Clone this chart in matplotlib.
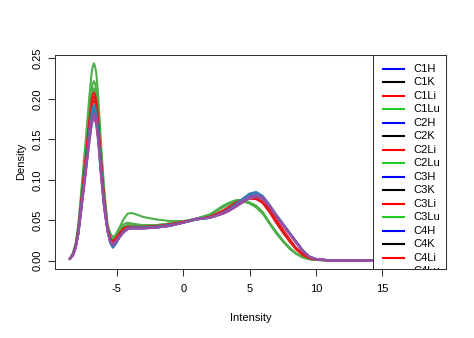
import matplotlib
matplotlib.use("Agg")
import matplotlib.pyplot as plt

plt.rcParams['font.family'] = ['Liberation Sans', 'DejaVu Sans']

# density grid (Intensity)
intensity = [-8.55, -8.3, -8.1, -7.9, -7.66, -7.36, -7.06, -6.9, -6.82, -6.73, -6.64, -6.55, -6.41, -6.2, -5.96,
             -5.7, -5.5, -5.3, -5.1, -4.8, -4.5, -4.2, -3.9, -3.5, -3.0, -2.0, -1.0, 0.0, 1.0, 2.0, 3.0, 3.5,
             4.0, 4.5, 5.0, 5.5, 6.0, 6.5, 7.0, 7.5, 8.0, 8.5, 9.0, 9.5, 10.0, 11.0, 12.0, 14.0, 16.0]

green_dens = [
    [0.002, 0.010, 0.022, 0.045, 0.090, 0.146, 0.205, 0.232, 0.240, 0.244, 0.240, 0.232, 0.205, 0.146, 0.090,
     0.045, 0.034, 0.029, 0.032, 0.041, 0.051, 0.058, 0.059, 0.057, 0.054, 0.051, 0.049, 0.049, 0.052, 0.057, 0.068, 0.072,
     0.075, 0.075, 0.072, 0.068, 0.060, 0.047, 0.035, 0.025, 0.016, 0.009, 0.0045, 0.002, 0.001, 0.0003, 0.0001, 0.0, 0.0],
    [0.002, 0.009, 0.020, 0.041, 0.082, 0.133, 0.186, 0.211, 0.219, 0.222, 0.219, 0.211, 0.186, 0.133, 0.082,
     0.042, 0.030, 0.026, 0.029, 0.037, 0.045, 0.047, 0.046, 0.045, 0.044, 0.044, 0.046, 0.048, 0.052, 0.057, 0.067, 0.071,
     0.074, 0.074, 0.071, 0.066, 0.058, 0.046, 0.034, 0.024, 0.015, 0.0085, 0.004, 0.002, 0.0009, 0.0003, 0.0001, 0.0, 0.0],
    [0.002, 0.009, 0.019, 0.039, 0.079, 0.128, 0.179, 0.202, 0.210, 0.213, 0.210, 0.202, 0.179, 0.128, 0.079,
     0.041, 0.029, 0.025, 0.028, 0.035, 0.042, 0.044, 0.044, 0.043, 0.043, 0.044, 0.046, 0.048, 0.052, 0.056, 0.066, 0.070,
     0.073, 0.073, 0.071, 0.066, 0.059, 0.047, 0.036, 0.025, 0.016, 0.009, 0.0045, 0.002, 0.001, 0.0003, 0.0001, 0.0, 0.0],
]
red_dens = [
    [0.002, 0.008, 0.019, 0.038, 0.077, 0.125, 0.175, 0.198, 0.205, 0.208, 0.205, 0.198, 0.175, 0.125, 0.077,
     0.040, 0.028, 0.024, 0.027, 0.034, 0.040, 0.042, 0.042, 0.042, 0.042, 0.043, 0.045, 0.048, 0.051, 0.054, 0.062, 0.067,
     0.072, 0.076, 0.078, 0.077, 0.071, 0.060, 0.047, 0.035, 0.024, 0.014, 0.007, 0.003, 0.0012, 0.0003, 0.0001, 0.0, 0.0],
    [0.002, 0.008, 0.018, 0.038, 0.075, 0.122, 0.171, 0.193, 0.200, 0.203, 0.200, 0.193, 0.171, 0.122, 0.075,
     0.039, 0.027, 0.023, 0.026, 0.033, 0.039, 0.041, 0.041, 0.041, 0.041, 0.042, 0.045, 0.048, 0.051, 0.054, 0.061, 0.066,
     0.071, 0.075, 0.077, 0.076, 0.072, 0.062, 0.049, 0.037, 0.026, 0.015, 0.008, 0.0035, 0.0014, 0.0004, 0.0001, 0.0, 0.0],
    [0.002, 0.008, 0.018, 0.037, 0.073, 0.119, 0.166, 0.188, 0.195, 0.198, 0.195, 0.188, 0.166, 0.119, 0.073,
     0.039, 0.026, 0.022, 0.025, 0.032, 0.038, 0.041, 0.041, 0.041, 0.041, 0.042, 0.044, 0.048, 0.051, 0.054, 0.060, 0.065,
     0.070, 0.074, 0.077, 0.077, 0.073, 0.064, 0.051, 0.039, 0.027, 0.016, 0.009, 0.004, 0.0015, 0.0004, 0.0001, 0.0, 0.0],
]
blue_dens = [
    [0.002, 0.008, 0.017, 0.036, 0.071, 0.115, 0.161, 0.182, 0.189, 0.192, 0.189, 0.182, 0.161, 0.115, 0.071,
     0.038, 0.022, 0.016, 0.020, 0.029, 0.036, 0.040, 0.041, 0.041, 0.041, 0.042, 0.044, 0.047, 0.051, 0.053, 0.059, 0.064,
     0.070, 0.077, 0.083, 0.085, 0.080, 0.069, 0.057, 0.046, 0.035, 0.024, 0.013, 0.005, 0.002, 0.0005, 0.0001, 0.0, 0.0],
    [0.002, 0.008, 0.017, 0.035, 0.070, 0.113, 0.158, 0.179, 0.185, 0.188, 0.185, 0.179, 0.158, 0.113, 0.070,
     0.037, 0.022, 0.017, 0.021, 0.029, 0.036, 0.040, 0.041, 0.041, 0.041, 0.042, 0.044, 0.047, 0.051, 0.053, 0.059, 0.064,
     0.070, 0.076, 0.082, 0.084, 0.079, 0.069, 0.057, 0.046, 0.035, 0.024, 0.013, 0.005, 0.002, 0.0005, 0.0001, 0.0, 0.0],
    [0.002, 0.007, 0.017, 0.034, 0.068, 0.111, 0.155, 0.176, 0.182, 0.185, 0.182, 0.176, 0.155, 0.111, 0.068,
     0.037, 0.023, 0.018, 0.021, 0.029, 0.035, 0.039, 0.040, 0.040, 0.040, 0.041, 0.043, 0.047, 0.051, 0.053, 0.059, 0.063,
     0.069, 0.075, 0.080, 0.082, 0.078, 0.068, 0.056, 0.045, 0.034, 0.023, 0.012, 0.005, 0.002, 0.0005, 0.0001, 0.0, 0.0],
]
purple_dens = [
    [0.002, 0.007, 0.016, 0.034, 0.067, 0.109, 0.153, 0.173, 0.179, 0.182, 0.179, 0.173, 0.153, 0.109, 0.067,
     0.037, 0.024, 0.019, 0.022, 0.029, 0.035, 0.039, 0.040, 0.040, 0.040, 0.041, 0.043, 0.047, 0.052, 0.053, 0.059, 0.063,
     0.068, 0.074, 0.079, 0.081, 0.078, 0.068, 0.056, 0.045, 0.034, 0.023, 0.012, 0.005, 0.002, 0.0005, 0.0001, 0.0, 0.0],
    [0.002, 0.007, 0.016, 0.033, 0.066, 0.107, 0.150, 0.170, 0.176, 0.179, 0.176, 0.170, 0.150, 0.107, 0.066,
     0.036, 0.024, 0.020, 0.023, 0.029, 0.035, 0.039, 0.040, 0.040, 0.040, 0.041, 0.043, 0.047, 0.052, 0.053, 0.058, 0.062,
     0.067, 0.073, 0.078, 0.080, 0.077, 0.068, 0.056, 0.045, 0.034, 0.023, 0.012, 0.005, 0.002, 0.0005, 0.0001, 0.0, 0.0],
    [0.002, 0.007, 0.016, 0.033, 0.065, 0.106, 0.148, 0.167, 0.173, 0.176, 0.173, 0.167, 0.148, 0.106, 0.065,
     0.036, 0.025, 0.021, 0.024, 0.030, 0.035, 0.039, 0.040, 0.040, 0.040, 0.041, 0.043, 0.047, 0.052, 0.053, 0.058, 0.062,
     0.067, 0.072, 0.077, 0.079, 0.076, 0.067, 0.055, 0.044, 0.033, 0.022, 0.012, 0.005, 0.002, 0.0005, 0.0001, 0.0, 0.0],
]

groups = [(green_dens, '#4daf4a'), (red_dens, '#e41a1c'), (blue_dens, '#377eb8'), (purple_dens, '#984ea3')]

samples = ['C1H', 'C1K', 'C1Li', 'C1Lu', 'C2H', 'C2K', 'C2Li', 'C2Lu',
           'C3H', 'C3K', 'C3Li', 'C3Lu', 'C4H', 'C4K', 'C4Li', 'C4Lu']
legend_cols = ['blue', 'black', 'red', '#22cc22']

W, H = 474, 338
fig = plt.figure(figsize=(W / 100, H / 100), dpi=100)

# plot region in pixels: left, right, top, bottom
L, R, T, B = 55, 446, 55, 268.7
ax = fig.add_axes([L / W, 1 - B / H, (R - L) / W, (B - T) / H])

for dens, col in groups:
    for d in dens:
        ax.plot(intensity, d, color=col, lw=1.5, solid_capstyle='round')

ax.set_xlim(-9.66, 19.8)
ax.set_ylim(-0.0099, 0.2543)
ax.set_xticks([-5, 0, 5, 10, 15])
ax.set_xticklabels(['-5', '0', '5', '10', '15'])
ax.set_yticks([0, 0.05, 0.10, 0.15, 0.20, 0.25])
ax.set_yticklabels(['0.00', '0.05', '0.10', '0.15', '0.20', '0.25'], rotation=90, va='center')
ax.tick_params(direction='out', length=5, width=0.75, labelsize=8, color='#333333')
ax.tick_params(axis='x', pad=6)
ax.tick_params(axis='y', pad=4)
for s in ax.spines.values():
    s.set_linewidth(0.75)
    s.set_color('#333333')

fig.text((L + R) / 2 / W, 1 - 318 / H, 'Intensity', ha='center', va='center', fontsize=8)
fig.text(21 / W, 1 - (T + B) / 2 / H, 'Density', ha='center', va='center', rotation=90, fontsize=8)

# legend box (clipped by the plot region)
LL = 372.7
lg = fig.add_axes([LL / W, 1 - B / H, (R - LL) / W, (B - T) / H])
lg.set_xlim(0, R - LL)
lg.set_ylim(B - T, 0)
lg.set_xticks([])
lg.set_yticks([])
lg.set_facecolor('white')
for s in lg.spines.values():
    s.set_linewidth(0.75)
    s.set_color('#333333')
for i, name in enumerate(samples):
    y = 14 + i * 13.47
    lg.plot([10, 31], [y, y], color=legend_cols[i % 4], lw=1.5, clip_on=True)
    lg.text(40.6, y, name, fontsize=8, va='center', ha='left', clip_on=True)

fig.savefig('out.png', dpi=100)
